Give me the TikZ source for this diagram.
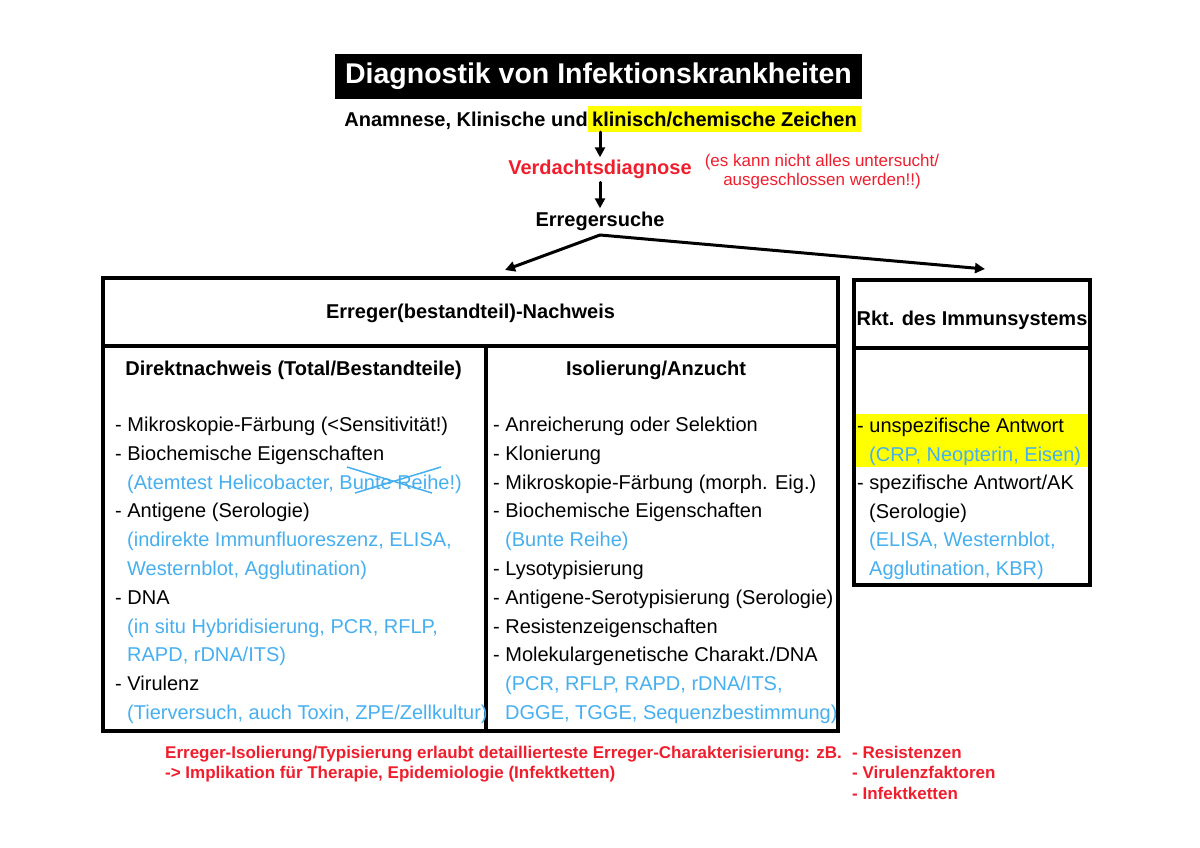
\documentclass[tikz,border=0pt]{standalone}
\usepackage{fontspec}
\setmainfont{Liberation Sans}
\usetikzlibrary{arrows.meta}

\definecolor{rotton}{RGB}{240,30,45}
\definecolor{blauton}{RGB}{70,175,240}
\definecolor{marker}{RGB}{255,255,0}

\tikzset{
  rahmen/.style={line width=4pt},
  pfeil/.style={line width=3pt, line cap=round, -{Triangle[length=10pt,width=10pt]}},
  fett/.style={font=\fontsize{20}{24}\selectfont\bfseries, inner sep=3pt},
  punkt/.style={font=\fontsize{20}{24}\selectfont, anchor=base west, inner sep=0pt},
  unter/.style={punkt, xshift=12pt},
  unterb/.style={unter, text=blauton},
  fuss/.style={font=\fontsize{17}{20}\selectfont\bfseries, text=rotton, anchor=base west, inner sep=0pt}
}

\begin{document}
\begin{tikzpicture}[x=1pt,y=-1pt]
  \useasboundingbox (0,0) rectangle (1200,848);

  % Titel
  \node[fill=black, text=white, font=\fontsize{28.5}{34}\selectfont\bfseries,
        minimum width=527pt, minimum height=45pt] (titel) at (598.5,76.5) {Diagnostik von Infektionskrankheiten};

  % Anamnese und Verdacht
  \node[fett, fill=marker, anchor=base west, inner xsep=4pt, text height=17.5pt, text depth=2.5pt] (zeichen) at (588,126.5) {klinisch/chemische Zeichen};
  \node[fett, anchor=base east, inner xsep=0pt] (anamnese) at (zeichen.base west) {Anamnese, Klinische und};
  \node[fett, text=rotton, anchor=base] (verdacht) at (600,175) {Verdachtsdiagnose};
  \node[font=\fontsize{17}{19}\selectfont, text=rotton, align=center] (hinweis) at (822,172) {(es kann nicht alles untersucht/\\ausgeschlossen werden!!)};
  \node[fett, anchor=base] (suche) at (600,226) {Erregersuche};

  \draw[pfeil] (zeichen.south -| verdacht.north) -- (verdacht.north);
  \draw[pfeil] (verdacht.south) -- (suche.north);

  % Verzweigung
  \coordinate (gabel) at (600,235);
  \coordinate (links) at (505,270);
  \coordinate (rechts) at (985,269);
  \draw[pfeil] (gabel) -- (links);
  \draw[pfeil] (gabel) -- (rechts);

  % Kaesten
  \fill[marker] (856,414) rectangle (1088,467);
  \draw[rahmen] (103,278) rectangle (838,731);
  \draw[rahmen] (103,346) -- (838,346);
  \draw[rahmen] (485.5,346) -- (485.5,731);
  \draw[rahmen] (854,280) rectangle (1090,585);
  \draw[rahmen] (854,348) -- (1090,348);

  % Ueberschriften
  \node[fett, anchor=base] (nachweis) at (470.5,318.5) {Erreger(bestandteil)-Nachweis};
  \node[fett, anchor=base] (immun) at (972,325) {Rkt. des Immunsystems};
  \node[fett, anchor=base] (direkt) at (293.5,375) {Direktnachweis (Total/Bestandteile)};
  \node[fett, anchor=base] (anzucht) at (656,375) {Isolierung/Anzucht};

  % Direktnachweis
  \foreach \t/\s [count=\i from 0] in {
      {- Mikroskopie-Färbung (<Sensitivität!)}/punkt,
      {- Biochemische Eigenschaften}/punkt,
      {(Atemtest Helicobacter, Bunte Reihe!)}/unterb,
      {- Antigene (Serologie)}/punkt,
      {(indirekte Immunfluoreszenz, ELISA,}/unterb,
      {Westernblot, Agglutination)}/unterb,
      {- DNA}/punkt,
      {(in situ Hybridisierung, PCR, RFLP,}/unterb,
      {RAPD, rDNA/ITS)}/unterb,
      {- Virulenz}/punkt,
      {(Tierversuch, auch Toxin, ZPE/Zellkultur)}/unterb} {
    \node[\s] (d\i) at (115,431.5+28.8*\i) {\t};
  }
  % durchgestrichen
  \draw[blauton, line width=1.5pt] (347,467) -- (432,493);
  \draw[blauton, line width=1.5pt] (355,493) -- (441,467);

  % Isolierung/Anzucht
  \foreach \t/\s [count=\i from 0] in {
      {- Anreicherung oder Selektion}/punkt,
      {- Klonierung}/punkt,
      {- Mikroskopie-Färbung (morph. Eig.)}/punkt,
      {- Biochemische Eigenschaften}/punkt,
      {(Bunte Reihe)}/unterb,
      {- Lysotypisierung}/punkt,
      {- Antigene-Serotypisierung (Serologie)}/punkt,
      {- Resistenzeigenschaften}/punkt,
      {- Molekulargenetische Charakt./DNA}/punkt,
      {(PCR, RFLP, RAPD, rDNA/ITS,}/unterb,
      {DGGE, TGGE, Sequenzbestimmung)}/unterb} {
    \node[\s] (a\i) at (493,431.5+28.8*\i) {\t};
  }

  % Immunsystem
  \foreach \t/\s [count=\i from 0] in {
      {- unspezifische Antwort}/punkt,
      {(CRP, Neopterin, Eisen)}/unterb,
      {- spezifische Antwort/AK}/punkt,
      {(Serologie)}/unter,
      {(ELISA, Westernblot,}/unterb,
      {Agglutination, KBR)}/unterb} {
    \node[\s] (r\i) at (857,432.5+28.6*\i) {\t};
  }

  % Fazit
  \node[fuss] (fazit1) at (165,758) {Erreger-Isolierung/Typisierung erlaubt detaillierteste Erreger-Charakterisierung: zB.};
  \node[fuss] (fazit2) at (165,778.5) {-> Implikation für Therapie, Epidemiologie (Infektketten)};
  \foreach \t [count=\i from 0] in {Resistenzen, Virulenzfaktoren, Infektketten} {
    \node[fuss] (z\i) at (852,758+20.5*\i) {- \t};
  }
\end{tikzpicture}
\end{document}
